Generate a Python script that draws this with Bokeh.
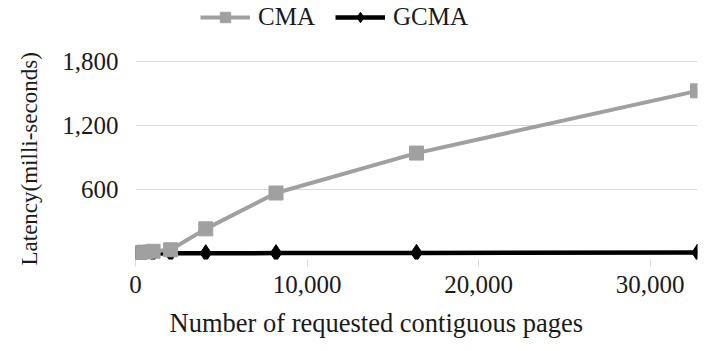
from bokeh.plotting import figure
from bokeh.models import Range1d, FixedTicker, NumeralTickFormatter, Legend, LegendItem, Title
from bokeh.embed import file_html
from bokeh.resources import INLINE

pages = [64, 128, 256, 512, 1024, 2048, 4096, 8192, 16384, 32768]
cma = [4, 6, 8, 14, 22, 36, 232, 568, 942, 1525]
gcma = [1, 1, 1, 2, 2, 3, 4, 5, 7, 10]
x_ticks = [0, 10000, 20000, 30000]
y_ticks = [600, 1200, 1800]
x_label = "Number of requested contiguous pages"
y_label = "Latency(milli-seconds)"

FONT = '"Liberation Serif", serif'
TXT = "#1a1a1a"
GRID = "#d9d9d9"
FS = "25px"

y_lo, y_hi = -55, 1800
# extra headroom so the legend can sit inside the frame above the 1,800 line
y_top = y_hi + 61 * (y_hi - y_lo) / 198.0

p = figure(width=720, height=351, output_backend="svg", toolbar_location=None,
           x_range=Range1d(0, max(pages)), y_range=Range1d(y_lo, y_top),
           min_border_left=135, min_border_right=23, min_border_top=0, min_border_bottom=92)
p.background_fill_color = "white"
p.border_fill_color = "white"
p.outline_line_color = None

# left/right frame edges, only up to the top gridline
p.xgrid.ticker = FixedTicker(ticks=[0, max(pages)])
p.xgrid.bounds = (y_lo, y_hi)
p.xgrid.grid_line_color = GRID
p.xgrid.grid_line_width = 1
p.ygrid.ticker = FixedTicker(ticks=y_ticks)
p.ygrid.grid_line_color = GRID
p.ygrid.grid_line_width = 1

p.xaxis.ticker = FixedTicker(ticks=x_ticks)
p.xaxis.formatter = NumeralTickFormatter(format="0,0")
p.xaxis.axis_line_color = None
p.xaxis.major_tick_line_color = GRID
p.xaxis.major_tick_in = 0
p.xaxis.major_tick_out = 7
p.xaxis.minor_tick_line_color = None
p.xaxis.major_label_standoff = 9

p.yaxis.ticker = FixedTicker(ticks=y_ticks)
p.yaxis.formatter = NumeralTickFormatter(format="0,0")
p.yaxis.axis_line_color = None
p.yaxis.major_tick_line_color = None
p.yaxis.major_tick_in = 0
p.yaxis.major_tick_out = 0
p.yaxis.minor_tick_line_color = None
p.yaxis.major_label_standoff = 17

for ax in (p.xaxis, p.yaxis):
    ax.major_label_text_font = FONT
    ax.major_label_text_font_size = FS
    ax.major_label_text_color = TXT

xt = Title(text=x_label, align="left", offset=34, standoff=21,
           text_font=FONT, text_font_size="26.5px", text_font_style="normal", text_color=TXT)
p.add_layout(xt, "below")
yt = Title(text=y_label, align="left", vertical_align="top", offset=-6, standoff=31,
           text_font=FONT, text_font_size="23px", text_font_style="normal", text_color=TXT)
p.add_layout(yt, "left")

g_line = p.line(pages, gcma, line_color="black", line_width=4.5)
g_mark = p.scatter(pages, gcma, marker="diamond", size=17, fill_color="black", line_color="black")
c_line = p.line(pages, cma, line_color="#a0a0a0", line_width=4)
c_mark = p.scatter(pages, cma, marker="square", size=14, fill_color="#a0a0a0", line_color="#a0a0a0")

legend = Legend(items=[LegendItem(label="CMA", renderers=[c_line, c_mark]),
                       LegendItem(label="GCMA", renderers=[g_line, g_mark])],
                orientation="horizontal", location=(65, 228),
                glyph_width=50, glyph_height=26, label_height=26, label_standoff=8,
                spacing=20, padding=0, margin=0,
                border_line_color=None, background_fill_alpha=0,
                label_text_font=FONT, label_text_font_size=FS, label_text_color=TXT)
p.add_layout(legend, "center")

open("out.html", "w").write(file_html(p, INLINE))
